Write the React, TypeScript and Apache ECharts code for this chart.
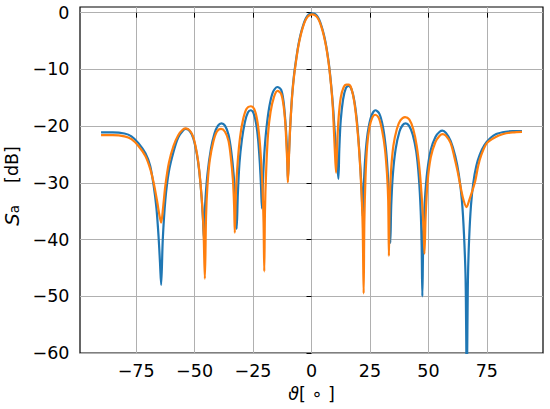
import React, { useEffect, useRef } from "react";
import * as echarts from "echarts";

// Angles (degrees) and levels (dB), blue series
const blueTheta = [
  -90, -85, -80, -77, -74, -71, -69, -67.5, -66.3, -65.4, -64.8, -64.3,
  -63.6, -62.5, -61, -59, -57, -55, -53.7, -52, -50.5, -49, -48, -47, -46.4, -46,
  -45.5, -44.5, -43, -41.5, -40, -38.5, -37, -35.5, -34.3, -33.3, -32.6, -32,
  -31.5, -30.8, -29.8, -28.5, -27.2, -26, -24.8, -23.7, -22.8, -22.1, -21.6, -21.2,
  -20.8, -20.2, -19.3, -18, -16.5, -14.6, -13, -12, -11.2, -10.6, -10.3, -10.1,
  -9.6, -9.2, -8.7, -8.2, -7.5, -6.7, -5.7, -4.7, -3.7, -2.7, -1.7, -0.7, 0.3,
  1.3, 2.3, 3.3, 4.3, 5.3, 6.3, 7.3, 8.0, 8.7, 9.3, 9.9, 10.5, 11.0, 11.5,
  11.9, 12.5, 13.5, 14.7, 15.9, 17.1, 18.3, 19.4, 20.3, 21, 21.5, 21.9,
  22.3, 23, 24, 25.5, 27.3, 29, 30.5, 31.7, 32.5, 33.1, 33.4, 33.7,
  34.1, 34.8, 36, 37.6, 39, 40.3, 41.7, 43.3, 44.8, 45.9, 46.7, 47.1, 47.4,
  47.8, 48.5, 49.5, 51, 53, 54.8, 56, 57.5, 59.5, 61.5, 63, 64.3, 65.2, 65.9, 66.4,
  66.9, 67.4, 68.2, 69.2, 70.5, 72, 74, 76.5, 79, 83, 86, 90,
];
const blueDb = [
  -21.1, -21.1, -21.3, -21.8, -23.0, -24.8, -27.0, -30.5, -34.5, -39.5, -44, -48,
  -40, -33, -28, -24.5, -22, -20.8, -20.5, -20.9, -22.2, -25, -28, -32.5, -36.5, -40,
  -34, -28.5, -24, -21.3, -19.9, -19.5, -19.9, -21.5, -24.5, -28.5, -33, -38.1,
  -32, -26.5, -22.5, -19.3, -17.6, -17.2, -17.7, -19.5, -22.5, -26.5, -30.5, -34.5,
  -30, -25, -20.5, -16.5, -14, -13.1, -13.6, -15.5, -19, -23, -26.5, -29.5,
  -24.5, -20.8, -17.1, -14.1, -11.1, -8.6, -5.9, -3.9, -2.4, -1.25, -0.55, -0.2, -0.1,
  -0.2, -0.55, -1.25, -2.4, -3.9, -5.9, -8.6, -11.1, -14.1, -17.1, -20.8, -24, -27, -29.3,
  -24, -19, -15.3, -13.3, -12.9, -13.5, -15.5, -19, -23.5, -28, -32, -35.9,
  -31, -25.5, -21.3, -18.3, -17.2, -17.8, -20, -23.5, -27.5, -32.5, -36, -40.6,
  -34, -28.5, -24, -21, -19.8, -19.5, -19.9, -21.5, -24.5, -29, -35, -41, -50,
  -40, -33, -28, -24.2, -21.9, -21, -20.8, -21.2, -22.6, -25.3, -28.5, -33, -39, -47, -65,
  -47, -40, -34, -30, -27, -25, -23.3, -22.1, -21.4, -21.0, -20.9, -20.9,
];

// Orange series
const orangeTheta = [
  -90, -85, -80, -77, -74, -71, -69, -67.5, -66, -65, -64.3,
  -63.5, -62.5, -61, -59, -57, -55, -53.7, -52, -50.5, -49, -48, -47, -46.2, -45.6,
  -45.1, -44.5, -43.5, -42, -40.5, -38.7, -37, -35.5, -34.5, -33.6, -33.1, -32.8,
  -32.3, -31.5, -30.5, -29.2, -27.7, -26, -24.5, -23.3, -22.3, -21.5, -20.9, -20.5, -20.2,
  -19.9, -19.4, -18.6, -17.5, -16, -14.5, -13, -12, -11.2, -10.7, -10.3, -10.1,
  -9.6, -9.2, -8.7, -8.2, -7.5, -6.7, -5.7, -4.7, -3.7, -2.7, -1.7, -0.7, 0.3,
  1.3, 2.3, 3.3, 4.3, 5.3, 6.3, 7.3, 8.0, 8.7, 9.2, 9.6, 10.0, 10.5,
  11, 11.6, 12.5, 13.7, 15, 15.9, 17, 18.2, 19.4, 20.4, 21.3, 21.9, 22.3,
  22.6, 23.1, 23.8, 24.8, 26, 27.3, 28.8, 30.2, 31.4, 32.3, 32.8, 33.1,
  33.4, 34, 35, 36.5, 38, 40, 41.8, 43.5, 45, 46.3, 47.3, 47.9, 48.3,
  48.8, 49.6, 51, 53, 54.8, 56, 57.5, 59.5, 61, 62.5, 63.8, 65, 66.3,
  67.5, 68.7, 70, 71.3, 72.7, 75, 78.4, 82, 86, 90,
];
const orangeDb = [
  -21.6, -21.6, -21.8, -22.3, -23.5, -25.3, -27.5, -30, -33.3, -35.8, -37,
  -34.5, -30.5, -26.5, -23.5, -21.6, -20.6, -20.4, -20.8, -22, -24.8, -27.8, -32.5, -38, -46.9,
  -36, -30.5, -26, -22.8, -21, -20.5, -21, -22.6, -25.5, -29.5, -34, -38.8,
  -31.5, -26, -21.8, -18.7, -16.9, -16.5, -17, -18.8, -22, -26.5, -31.5, -37, -45.6,
  -35, -28, -21.5, -17.5, -14.8, -13.8, -14.3, -16.2, -19.5, -23.5, -27, -29.9,
  -25, -21, -17.3, -14.3, -11.3, -8.8, -6.1, -4.1, -2.6, -1.45, -0.75, -0.4, -0.3,
  -0.4, -0.75, -1.45, -2.6, -4.1, -6.1, -8.8, -11.3, -14.3, -17.3, -21, -24.5, -28.2,
  -23, -18.5, -15, -13.2, -12.7, -12.7, -13.3, -15.5, -19.5, -24.5, -31, -38, -49.5,
  -37, -29, -23.5, -20.2, -18.5, -18.0, -18.6, -20.8, -24, -28.5, -33, -42.9,
  -34, -28, -23.5, -20.5, -19, -18.4, -18.8, -20.5, -23.5, -28, -33.5, -38, -42.5,
  -36, -30, -25.5, -22.8, -21.7, -21.4, -21.7, -23, -25.3, -28, -30.8, -33, -34.3,
  -33, -31.5, -29.7, -27, -25, -23, -22, -21.4, -21.1, -21.0,
];

const xTicks = [-75, -50, -25, 0, 25, 50, 75];
const yTicks = [-60, -50, -40, -30, -20, -10, 0];

const FONT = "DejaVu Sans";
const fmt = (v: number) => String(v).replace("-", "\u2212");

export default function App() {
  const ref = useRef<HTMLDivElement>(null);
  useEffect(() => {
    if (!ref.current) return;
    const chart = echarts.init(ref.current, null, { renderer: "svg" });
    const zip = (xs: number[], ys: number[]) => xs.map((x, i) => [x, ys[i]]);
    const axisCommon = {
      axisLine: { show: false },
      axisTick: { show: true, inside: false, length: 5, lineStyle: { color: "#000", width: 1 } },
      splitLine: { show: true, lineStyle: { color: "#b0b0b0", width: 1 } },
    };
    chart.setOption({
      animation: false,
      backgroundColor: "#fff",
      grid: {
        left: 80, right: 7, top: 7, bottom: 56,
        show: true, borderColor: "#000", borderWidth: 1.2, backgroundColor: "#fff",
        containLabel: false, outerBoundsMode: "none",
      },
      xAxis: {
        type: "value", min: -99, max: 99,
        ...axisCommon,
        axisTick: { ...axisCommon.axisTick, customValues: xTicks },
        axisLabel: {
          customValues: xTicks, formatter: fmt, margin: 9,
          color: "#000", fontFamily: FONT, fontSize: 17.5,
        },
        name: "{t|\u03D1}[ \u2218 ]",
        nameLocation: "middle", nameGap: 31,
        nameTextStyle: {
          color: "#000", fontFamily: FONT, fontSize: 17.5,
          rich: { t: { fontStyle: "italic", fontFamily: FONT, fontSize: 17.5, color: "#000" } },
        },
      },
      yAxis: {
        type: "value", min: -60, max: 1,
        ...axisCommon,
        axisTick: { ...axisCommon.axisTick, customValues: yTicks },
        axisLabel: {
          customValues: yTicks, formatter: fmt, margin: 10.5,
          color: "#000", fontFamily: FONT, fontSize: 17.5,
        },
        name: "{s|S}{sub|a}{n|[dB]}",
        nameLocation: "middle", nameGap: 50, nameRotate: 90,
        nameTextStyle: {
          color: "#000", fontFamily: FONT, fontSize: 17.5,
          rich: {
            s: { fontStyle: "italic", fontFamily: FONT, fontSize: 20, color: "#000" },
            sub: { fontFamily: FONT, fontSize: 13.5, color: "#000", padding: [5, 0, 0, 0] },
            n: { fontFamily: FONT, fontSize: 17.5, color: "#000", padding: [0, 12, 0, 22] },
          },
        },
      },
      series: [
        {
          type: "line", data: zip(blueTheta, blueDb), showSymbol: false, smooth: 0.3,
          lineStyle: { color: "#1f77b4", width: 2.2 }, itemStyle: { color: "#1f77b4" }, clip: true, z: 2,
        },
        {
          type: "line", data: zip(orangeTheta, orangeDb), showSymbol: false, smooth: 0.3,
          lineStyle: { color: "#ff7f0e", width: 2.2 }, itemStyle: { color: "#ff7f0e" }, clip: true, z: 3,
        },
      ],
    });
    return () => chart.dispose();
  }, []);
  return (
    <div
      ref={ref}
      style={{ position: "fixed", left: 0, top: 0, width: 550, height: 409, background: "#fff" }}
    />
  );
}
